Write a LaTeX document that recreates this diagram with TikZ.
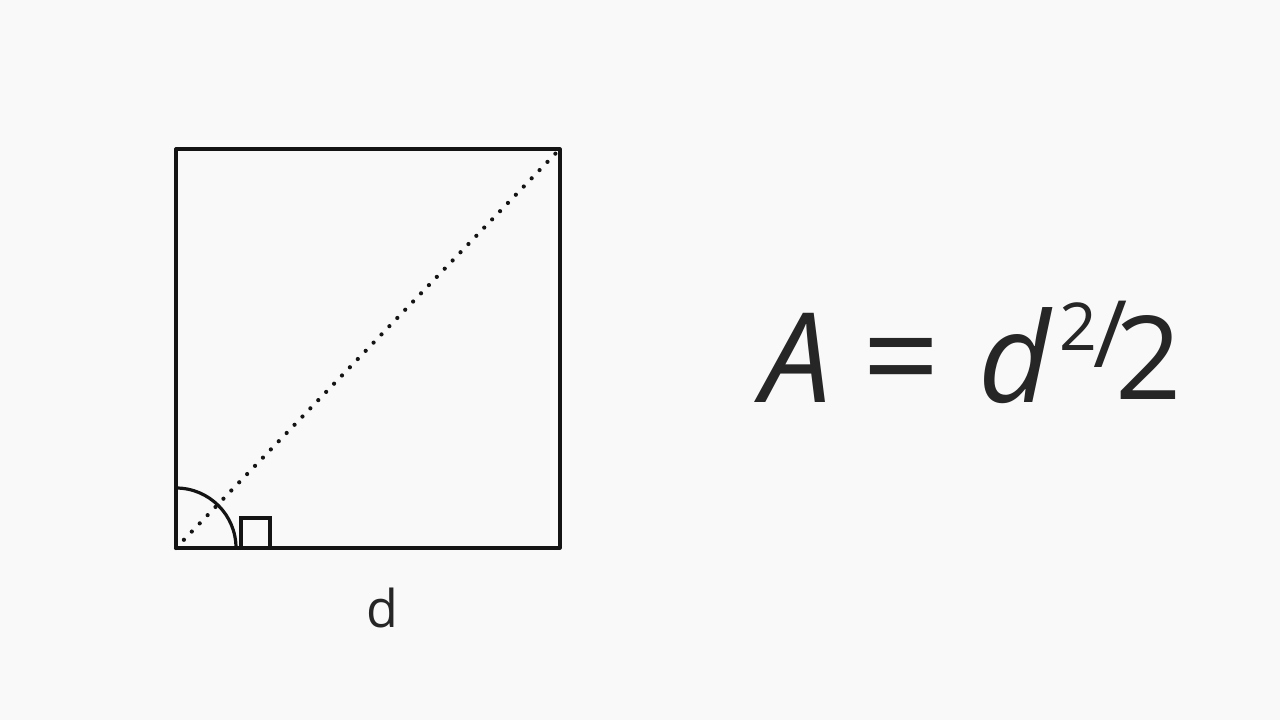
\documentclass[tikz,border=0pt]{standalone}
\usepackage{fontspec}
\setmainfont{Open Sans}
\begin{document}
\begin{tikzpicture}[x=1pt,y=-1pt,
  shapeline/.style={line width=3.2pt,draw=black!92},
  txt/.style={inner sep=0pt,outer sep=0pt,text=black!85}]
\fill[black!2.5] (0,0) rectangle (1280,720);
\useasboundingbox (0,0) rectangle (1280,720);
\coordinate (BL) at (176,548);
\coordinate (TR) at (560,149);
\coordinate (DE) at (556,153);
\draw[shapeline,line join=round] (BL) rectangle (TR);
\draw[line width=4.2pt,line cap=round,dash pattern=on 0pt off 11.4pt,draw=black!92] (BL) -- (DE);
\draw[shapeline] (176,488) arc[start angle=-90,end angle=0,radius=60];
\draw[shapeline] (241,548) -- (241,518) -- (270,518) -- (270,548);
\node[txt,anchor=base,font=\fontsize{52}{60}\selectfont] (d) at (382,627) {d};
\node[txt,anchor=base west,font=\fontsize{125}{140}\selectfont\itshape] (A) at (761,402) {A};
\node[txt,anchor=base west,font=\fontsize{136}{140}\selectfont] (eq) at (862,404) {=};
\node[txt,anchor=base west,font=\fontsize{125}{140}\selectfont\itshape] (dd) at (978,402) {d};
\node[txt,anchor=base west] (frac) at (1059,399) {%
  \makebox[0pt][l]{\raisebox{49pt}{\fontsize{66}{80}\selectfont 2}}%
  \makebox[0pt][l]{\hspace{34pt}\raisebox{32pt}{\fontsize{93}{100}\selectfont /}}%
  \hspace{56pt}{\fontsize{116}{140}\selectfont 2}};
\end{tikzpicture}
\end{document}
